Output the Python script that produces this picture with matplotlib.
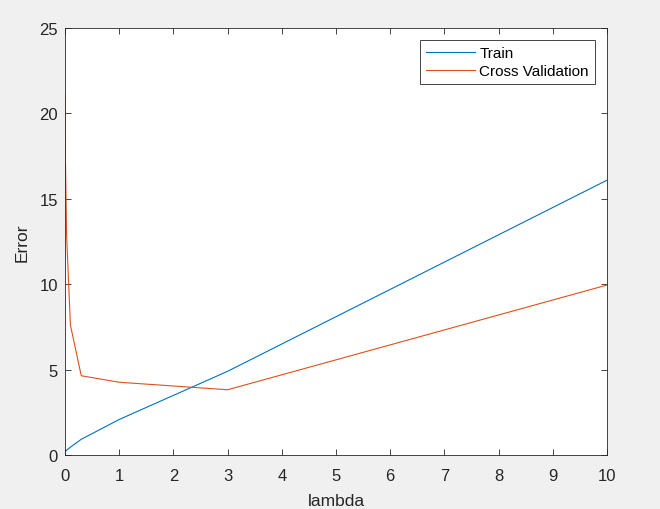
import matplotlib
matplotlib.use('Agg')
import matplotlib.pyplot as plt

plt.rcParams['font.family'] = ['Liberation Sans', 'DejaVu Sans']

lambdas = [0, 0.001, 0.003, 0.01, 0.03, 0.1, 0.3, 1, 3, 10]
train_err = [0.17, 0.16, 0.19, 0.22, 0.28, 0.46, 0.92, 2.08, 4.90, 16.09]
cv_err = [21.1, 19.0, 17.5, 16.9, 12.8, 7.6, 4.64, 4.26, 3.82, 9.95]

fig = plt.figure(figsize=(6.6, 5.1), dpi=100, facecolor='#f0f0f0')
ax = fig.add_axes([65/660, 54/510, 542/660, 427/510])
ax.plot(lambdas, train_err, color='#0072BD', lw=0.8, label='Train')
ax.plot(lambdas, cv_err, color='#D95319', lw=0.8, label='Cross Validation')

ax.set_xlim(0, 10)
ax.set_ylim(0, 25)
ax.set_xticks(range(0, 11))
ax.set_yticks(range(0, 26, 5))
ax.tick_params(direction='in', top=True, right=True, labelsize=12, length=4,
               width=0.6, colors='#262626')
ax.tick_params(axis='x', pad=9.5)
ax.tick_params(axis='y', pad=5)
for s in ax.spines.values():
    s.set_linewidth(0.6)
    s.set_color('#262626')
ax.set_xlabel('lambda', fontsize=12.5, color='#262626', labelpad=7)
ax.set_ylabel('Error', fontsize=12.5, color='#262626', labelpad=7)

leg = ax.legend(loc='upper right', fontsize=11, fancybox=False, framealpha=1,
                edgecolor='#262626', borderaxespad=0.8, handlelength=3.2,
                handletextpad=0.3, labelspacing=0.25, borderpad=0.4)
leg.get_frame().set_linewidth(0.6)

fig.savefig('out.png', dpi=100, facecolor=fig.get_facecolor())
